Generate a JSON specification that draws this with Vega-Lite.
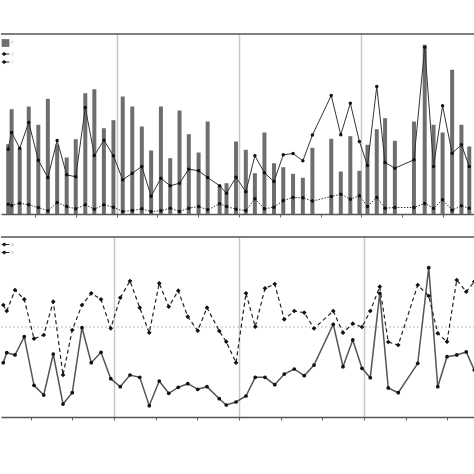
{
  "$schema": "https://vega.github.io/schema/vega-lite/v6.json",
  "padding": {"top": 33, "left": 0, "right": 0, "bottom": 0},
  "background": "white",
  "spacing": 18,
  "config": {"view": {"stroke": null}},
  "resolve": {"scale": {"color": "independent"}, "legend": {"color": "independent"}},
  "datasets": {
    "series": [
      {"t": 2010.114, "bar": 34.9, "s1": 32.4, "s2": 4.9, "d1": -1.19, "d2": 0.733},
      {"t": 2010.142, "bar": 52.4, "s1": 40.75, "s2": 4.25, "d1": -0.857, "d2": 0.533},
      {"t": 2010.208, "bar": 32.9, "s1": 32.9, "s2": 5.4, "d1": -0.933, "d2": 1.233},
      {"t": 2010.282, "bar": 53.75, "s1": 45.75, "s2": 4.6, "d1": -0.323, "d2": 0.923},
      {"t": 2010.36, "bar": 44.6, "s1": 26.9, "s2": 3.25, "d1": -1.943, "d2": -0.39},
      {"t": 2010.438, "bar": 57.6, "s1": 18.25, "s2": 1.6, "d1": -2.267, "d2": -0.267},
      {"t": 2010.514, "bar": 34.75, "s1": 36.75, "s2": 5.75, "d1": -0.9, "d2": 0.843},
      {"t": 2010.592, "bar": 28.25, "s1": 19.6, "s2": 3.75, "d1": -2.567, "d2": -1.6},
      {"t": 2010.666, "bar": 37.4, "s1": 18.6, "s2": 2.6, "d1": -2.19, "d2": -0.1},
      {"t": 2010.744, "bar": 60.4, "s1": 53.25, "s2": 4.6, "d1": -0.023, "d2": 0.733},
      {"t": 2010.818, "bar": 62.4, "s1": 29.25, "s2": 2.4, "d1": -1.19, "d2": 1.123},
      {"t": 2010.896, "bar": 42.9, "s1": 36.9, "s2": 4.6, "d1": -0.843, "d2": 0.923},
      {"t": 2010.974, "bar": 46.9, "s1": 29.1, "s2": 3.4, "d1": -1.723, "d2": -0.043},
      {"t": 2011.05, "bar": 58.75, "s1": 17.1, "s2": 1.25, "d1": -1.99, "d2": 0.977},
      {"t": 2011.128, "bar": 53.75, "s1": 20.4, "s2": 1.75, "d1": -1.6, "d2": 1.533},
      {"t": 2011.206, "bar": 43.75, "s1": 23.75, "s2": 2.6, "d1": -1.677, "d2": 0.643},
      {"t": 2011.282, "bar": 31.75, "s1": 8.9, "s2": 1.25, "d1": -2.623, "d2": -0.19},
      {"t": 2011.362, "bar": 53.75, "s1": 17.9, "s2": 1.65, "d1": -1.8, "d2": 1.457},
      {"t": 2011.438, "bar": 27.9, "s1": 14.1, "s2": 2.9, "d1": -2.21, "d2": 0.677},
      {"t": 2011.514, "bar": 51.75, "s1": 15.4, "s2": 1.25, "d1": -2.01, "d2": 1.21},
      {"t": 2011.59, "bar": 39.9, "s1": 22.4, "s2": 2.9, "d1": -1.89, "d2": 0.343},
      {"t": 2011.67, "bar": 30.75, "s1": 21.6, "s2": 3.75, "d1": -2.077, "d2": -0.123},
      {"t": 2011.744, "bar": 46.25, "s1": 18.25, "s2": 2.1, "d1": -1.99, "d2": 0.643},
      {"t": 2011.842, "bar": 14.25, "s1": 14.1, "s2": 5.1, "d1": -2.39, "d2": -0.133},
      {"t": 2011.898, "bar": 15.4, "s1": 10.4, "s2": 3.75, "d1": -2.6, "d2": -0.49},
      {"t": 2011.976, "bar": 36.25, "s1": 18.4, "s2": 2.4, "d1": -2.5, "d2": -1.19},
      {"t": 2012.056, "bar": 32.1, "s1": 11.1, "s2": 1.75, "d1": -2.3, "d2": 1.123},
      {"t": 2012.13, "bar": 20.4, "s1": 29.1, "s2": 7.6, "d1": -1.677, "d2": 0.01},
      {"t": 2012.208, "bar": 40.75, "s1": 20.6, "s2": 2.6, "d1": -1.677, "d2": 1.29},
      {"t": 2012.286, "bar": 25.4, "s1": 16.25, "s2": 3.4, "d1": -1.923, "d2": 1.433},
      {"t": 2012.362, "bar": 23.4, "s1": 29.6, "s2": 6.75, "d1": -1.567, "d2": 0.257},
      {"t": 2012.442, "bar": 20.1, "s1": 30.25, "s2": 8.25, "d1": -1.4, "d2": 0.533},
      {"t": 2012.522, "bar": 18.1, "s1": 26.6, "s2": 8.1, "d1": -1.623, "d2": 0.477},
      {"t": 2012.6, "bar": 33.1, "s1": 39.45, "s2": 6.45, "d1": -1.267, "d2": -0.05},
      {"t": 2012.754, "bar": 37.6, "s1": 59.25, "s2": 8.75, "d1": 0.09, "d2": 0.533},
      {"t": 2012.832, "bar": 21.25, "s1": 39.6, "s2": 9.9, "d1": -1.323, "d2": -0.19},
      {"t": 2012.91, "bar": 38.9, "s1": 55.4, "s2": 7.4, "d1": -0.433, "d2": 0.11},
      {"t": 2012.984, "bar": 21.6, "s1": 36.25, "s2": 9.1, "d1": -1.377, "d2": 0},
      {"t": 2013.05, "bar": 34.6, "s1": 24.25, "s2": 3.75, "d1": -1.69, "d2": 0.533},
      {"t": 2013.126, "bar": 42.4, "s1": 63.75, "s2": 8.25, "d1": 1.123, "d2": 1.343},
      {"t": 2013.194, "bar": 47.9, "s1": 25.75, "s2": 2.9, "d1": -2.033, "d2": -0.5},
      {"t": 2013.274, "bar": 36.6, "s1": 22.9, "s2": 3.25, "d1": -2.19, "d2": -0.6},
      {"t": 2013.43, "bar": 46.25, "s1": 27.1, "s2": 3.25, "d1": -1.21, "d2": 1.4},
      {"t": 2013.518, "bar": 84.6, "s1": 83.4, "s2": 5.25, "d1": 1.977, "d2": 1.033},
      {"t": 2013.59, "bar": 44.6, "s1": 23.75, "s2": 2.9, "d1": -1.99, "d2": -0.21},
      {"t": 2013.664, "bar": 40.75, "s1": 54.1, "s2": 7.1, "d1": -0.99, "d2": -0.49},
      {"t": 2013.742, "bar": 72.1, "s1": 30.4, "s2": 1.9, "d1": -0.933, "d2": 1.567},
      {"t": 2013.818, "bar": 44.6, "s1": 34.6, "s2": 4.1, "d1": -0.833, "d2": 1.177},
      {"t": 2013.882, "bar": 33.75, "s1": 23.75, "s2": 2.9, "d1": -1.433, "d2": 1.51}
    ]
  },
  "vconcat": [
    {
      "width": 474,
      "height": 180,
      "data": {"name": "series"},
      "layer": [
        {
          "mark": {"type": "bar", "size": 4, "clip": true},
          "encoding": {
            "x": {"field": "t", "type": "quantitative",
              "scale": {"domain": [2010.096, 2013.888], "nice": false, "zero": false},
              "axis": {"values": [2010.3333, 2010.6667, 2011, 2011.3333, 2011.6667, 2012, 2012.3333, 2012.6667, 2013, 2013.3333, 2013.6667],
                "labels": false, "title": null, "tickSize": 3, "tickColor": "#666", "domainColor": "#555", "domainWidth": 1.5,
                "grid": true, "gridColor": "#c8c8c8", "gridWidth": 1.5,
                "gridOpacity": {"condition": {"test": "abs(datum.value - round(datum.value)) < 0.001", "value": 1}, "value": 0}}},
            "y": {"field": "bar", "type": "quantitative", "scale": {"domain": [0, 90], "nice": false}, "axis": null},
            "color": {"datum": "P", "type": "nominal",
              "scale": {"domain": ["P", "Q", "C"], "range": ["#6e6e6e", "#111111", "#111111"]},
              "legend": {"orient": "none", "legendX": 0, "legendY": 4.5, "title": null, "padding": 0,
                "symbolSize": 60, "rowPadding": 0, "labelFontSize": 4, "labelColor": "#bbbbbb", "labelOffset": 1,
                "symbolStrokeWidth": 1, "symbolOpacity": 1,
                "encode": {"symbols": {"update": {
                  "shape": {"signal": "datum.value === 'P' ? 'square' : 'M-1,0H1M-0.7,0A0.36,0.36 0 1,0 0.02,0A0.36,0.36 0 1,0 -0.7,0Z'"},
                  "fill": {"signal": "datum.value === 'P' ? '#6e6e6e' : '#111111'"},
                  "stroke": {"signal": "datum.value === 'P' ? 'transparent' : '#222222'"}}}}}}
          }
        },
        {
          "mark": {"type": "line", "color": "#333", "strokeWidth": 1, "clip": true},
          "encoding": {
            "x": {"field": "t", "type": "quantitative"},
            "y": {"field": "s1", "type": "quantitative"}
          }
        },
        {
          "mark": {"type": "line", "color": "#333", "strokeWidth": 1, "strokeDash": [1.5, 1.5], "clip": true},
          "encoding": {
            "x": {"field": "t", "type": "quantitative"},
            "y": {"field": "s2", "type": "quantitative"}
          }
        },
        {
          "mark": {"type": "point", "filled": true, "size": 12, "opacity": 1, "clip": true},
          "encoding": {
            "x": {"field": "t", "type": "quantitative"},
            "y": {"field": "s1", "type": "quantitative"},
            "color": {"datum": "Q", "type": "nominal"}
          }
        },
        {
          "mark": {"type": "point", "filled": true, "size": 12, "opacity": 1, "clip": true},
          "encoding": {
            "x": {"field": "t", "type": "quantitative"},
            "y": {"field": "s2", "type": "quantitative"},
            "color": {"datum": "C", "type": "nominal"}
          }
        },
        {
          "data": {"values": [{}]},
          "mark": {"type": "rule", "color": "#555", "strokeWidth": 1.5},
          "encoding": {"y": {"datum": 90, "type": "quantitative"}}
        }
      ]
    },
    {
      "width": 474,
      "height": 180,
      "data": {"name": "series"},
      "layer": [
        {
          "data": {"values": [{}]},
          "mark": {"type": "rule", "color": "#bbb", "strokeWidth": 1, "strokeDash": [2, 2]},
          "encoding": {
            "y": {"datum": 0, "type": "quantitative", "scale": {"domain": [-3, 3], "nice": false}, "axis": null}
          }
        },
        {
          "mark": {"type": "line", "color": "#555", "strokeWidth": 1.5, "clip": true},
          "encoding": {
            "x": {"field": "t", "type": "quantitative",
              "scale": {"domain": [2010.096, 2013.888], "nice": false, "zero": false},
              "axis": {"values": [2010.3333, 2010.6667, 2011, 2011.3333, 2011.6667, 2012, 2012.3333, 2012.6667, 2013, 2013.3333, 2013.6667],
                "labels": false, "title": null, "tickSize": 3, "tickColor": "#666", "domainColor": "#555", "domainWidth": 1.5,
                "grid": true, "gridColor": "#c8c8c8", "gridWidth": 1.5,
                "gridOpacity": {"condition": {"test": "abs(datum.value - round(datum.value)) < 0.001", "value": 1}, "value": 0}}},
            "y": {"field": "d1", "type": "quantitative"}
          }
        },
        {
          "mark": {"type": "line", "color": "#222", "strokeWidth": 1.2, "strokeDash": [4, 3], "clip": true},
          "encoding": {
            "x": {"field": "t", "type": "quantitative"},
            "y": {"field": "d2", "type": "quantitative"}
          }
        },
        {
          "mark": {"type": "point", "filled": true, "size": 14, "opacity": 1, "clip": true},
          "encoding": {
            "x": {"field": "t", "type": "quantitative"},
            "y": {"field": "d1", "type": "quantitative"},
            "color": {"datum": "A", "type": "nominal",
              "scale": {"domain": ["A", "B"], "range": ["#111111", "#111111"]},
              "legend": {"orient": "none", "legendX": 0, "legendY": 3, "title": null, "padding": 0,
                "symbolSize": 60, "rowPadding": 0, "labelFontSize": 4, "labelColor": "#bbbbbb", "labelOffset": 1,
                "symbolStrokeWidth": 1, "symbolOpacity": 1,
                "encode": {"symbols": {"update": {
                  "shape": {"value": "M-1,0H1M-0.7,0A0.36,0.36 0 1,0 0.02,0A0.36,0.36 0 1,0 -0.7,0Z"},
                  "fill": {"value": "#111111"},
                  "stroke": {"value": "#222222"}}}}}}
          }
        },
        {
          "mark": {"type": "point", "filled": true, "size": 22, "shape": "diamond", "opacity": 1, "clip": true},
          "encoding": {
            "x": {"field": "t", "type": "quantitative"},
            "y": {"field": "d2", "type": "quantitative"},
            "color": {"datum": "B", "type": "nominal"}
          }
        },
        {
          "data": {"values": [{}]},
          "mark": {"type": "rule", "color": "#555", "strokeWidth": 1.5},
          "encoding": {"y": {"datum": 3, "type": "quantitative"}}
        }
      ]
    }
  ]
}
